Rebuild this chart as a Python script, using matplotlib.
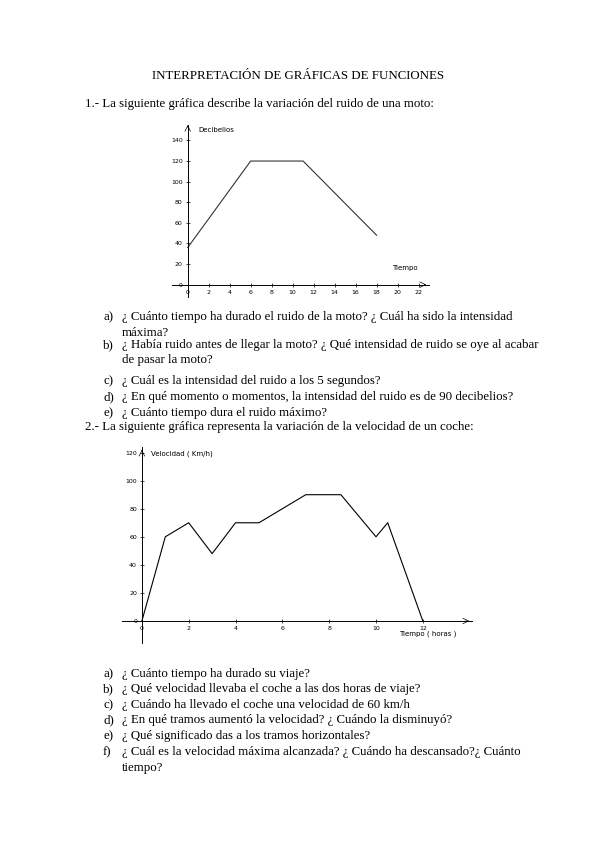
import matplotlib
matplotlib.use('Agg')
from matplotlib import pyplot as plt

# Chart 1: noise of a motorbike
t_moto = [0, 6, 11, 18]
db_moto = [36, 120, 120, 48]
xt_moto = list(range(0, 23, 2))
yt_moto = list(range(0, 141, 20))

# Chart 2: speed of a car
t_coche = [0, 1, 2, 3, 4, 5, 7, 8.5, 10, 10.5, 12]
v_coche = [0, 60, 70, 48, 70, 70, 90, 90, 60, 70, 0]
xt_coche = [0, 2, 4, 6, 8, 10, 12]
yt_coche = [0, 20, 40, 60, 80, 100, 120]

W, H = 595, 842
fig = plt.figure(figsize=(W / 100, H / 100), dpi=100)
serif = 'Liberation Serif'


def ax_px(x0, y0, x1, y1):
    # pixel box (top-left origin) -> figure axes
    return fig.add_axes([x0 / W, 1 - y1 / H, (x1 - x0) / W, (y1 - y0) / H])


def txt(x, y, s, **kw):
    fig.text(x / W, 1 - y / H, s, family=serif, fontsize=9.3, va='center', **kw)


def style(ax, xt, yt):
    ax.spines['left'].set_position(('data', 0))
    ax.spines['bottom'].set_position(('data', 0))
    for s in ['top', 'right']:
        ax.spines[s].set_visible(False)
    for s in ['left', 'bottom']:
        ax.spines[s].set_linewidth(0.7)
    ax.set_xticks(xt)
    ax.set_yticks(yt)
    ax.tick_params(direction='inout', length=3, width=0.5, labelsize=4.5, pad=2)
    ax.patch.set_alpha(0)


# --- chart 1
ax1 = ax_px(172, 125, 429, 297)
ax1.plot(t_moto, db_moto, color='#333333', lw=0.8)
ax1.set_xlim(-1.5, 23)
ax1.set_ylim(-12, 155)
style(ax1, xt_moto, yt_moto)
ax1.annotate('', xy=(23, 0), xytext=(22.3, 0),
             arrowprops=dict(arrowstyle='->', lw=0.5))
ax1.annotate('', xy=(0, 155), xytext=(0, 150),
             arrowprops=dict(arrowstyle='->', lw=0.5))
ax1.text(1, 148, 'Decibelios', fontsize=5)
ax1.text(19.5, 14, 'Tiempo', fontsize=5)

# --- chart 2
ax2 = ax_px(122, 447, 472, 643)
ax2.plot(t_coche, v_coche, color='black', lw=0.8)
ax2.set_xlim(-0.85, 14.1)
ax2.set_ylim(-15.7, 124)
style(ax2, xt_coche, yt_coche)
ax2.annotate('', xy=(14.1, 0), xytext=(13.7, 0),
             arrowprops=dict(arrowstyle='->', lw=0.5))
ax2.annotate('', xy=(0, 124), xytext=(0, 119),
             arrowprops=dict(arrowstyle='->', lw=0.5))
ax2.text(0.4, 119, 'Velocidad ( Km/h)', fontsize=5, va='center')
ax2.text(11, -9, 'Tiempo ( horas )', fontsize=5, va='center')

# --- page text
fig.text(298 / W, 1 - 76 / H, 'INTERPRETACIÓN DE GRÁFICAS DE FUNCIONES',
         family=serif, fontsize=9.3, ha='center', va='center')
txt(85, 104, '1.- La siguiente gráfica describe la variación del ruido de una moto:')
q1 = [
    (317, 'a)', '¿ Cuánto tiempo ha durado el ruido de la moto? ¿ Cuál ha sido la intensidad'),
    (333, '', 'máxima?'),
    (345, 'b)', '¿ Había ruido antes de llegar la moto? ¿ Qué intensidad de ruido se oye al acabar'),
    (360, '', 'de pasar la moto?'),
    (381, 'c)', '¿ Cuál es la intensidad del ruido a los 5 segundos?'),
    (397, 'd)', '¿ En qué momento o momentos, la intensidad del ruido es de 90 decibelios?'),
    (413, 'e)', '¿ Cuánto tiempo dura el ruido máximo?'),
]
txt(85, 427, '2.- La siguiente gráfica representa la variación de la velocidad de un coche:')
q2 = [
    (674, 'a)', '¿ Cuánto tiempo ha durado su viaje?'),
    (689, 'b)', '¿ Qué velocidad llevaba el coche a las dos horas de viaje?'),
    (705, 'c)', '¿ Cuándo ha llevado el coche una velocidad de 60 km/h'),
    (720, 'd)', '¿ En qué tramos aumentó la velocidad? ¿ Cuándo la disminuyó?'),
    (736, 'e)', '¿ Qué significado das a los tramos horizontales?'),
    (752, 'f)', '¿ Cuál es la velocidad máxima alcanzada? ¿ Cuándo ha descansado?¿ Cuánto'),
    (768, '', 'tiempo?'),
]
for y, lab, s in q1 + q2:
    if lab:
        txt(103, y, lab)
    txt(122, y, s)

fig.savefig('out.png', dpi=100)
